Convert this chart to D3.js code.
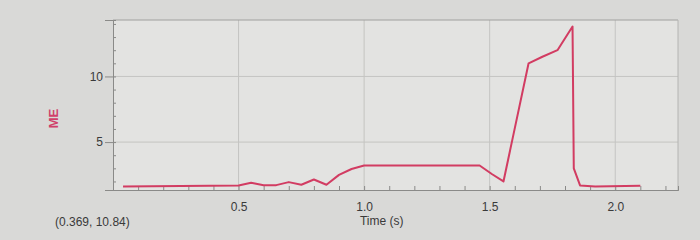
<!DOCTYPE html>
<html>
<head>
<meta charset="utf-8">
<script src="https://cdn.jsdelivr.net/npm/d3@7"></script>
<style>
  body { margin: 0; background: #d9d9d7; }
  svg { display: block; font-family: "Liberation Sans", Arial, sans-serif; }
  .tick text { fill: #3a3a3a; font-size: 12px; }
</style>
</head>
<body>
<div id="chart"></div>
<script>
// time (s) and ME values
var times = [0.04, 0.5, 0.55, 0.6, 0.65, 0.7, 0.75, 0.8, 0.85, 0.9, 0.95, 1.0, 1.46, 1.51, 1.555, 1.655, 1.71, 1.77, 1.83, 1.835, 1.86, 1.92, 2.1];
var meValues = [1.62, 1.7, 1.9, 1.72, 1.72, 1.95, 1.75, 2.15, 1.75, 2.5, 2.95, 3.22, 3.22, 2.55, 2.0, 11.0, 11.5, 12.0, 13.8, 3.0, 1.7, 1.62, 1.68];
var xMajor = [0.5, 1.0, 1.5, 2.0];
var yMajor = [5, 10];
var readout = '(0.369, 10.84)';

var width = 700, height = 240;
var svg = d3.select('#chart').append('svg').attr('width', width).attr('height', height);

var plotL = 113, plotR = 678, plotT = 20, plotB = 190;
var x = d3.scaleLinear().domain([0, 2.25]).range([plotL, plotR]);
var y = d3.scaleLinear().domain([1.35, 14.3]).range([plotB, plotT]);

// plot background
svg.append('rect').attr('x', plotL).attr('y', plotT).attr('width', plotR - plotL).attr('height', plotB - plotT)
    .attr('fill', '#e3e3e1');

// grid
svg.append('g').selectAll('line').data(xMajor).enter().append('line')
    .attr('x1', d => x(d)).attr('x2', d => x(d)).attr('y1', plotT).attr('y2', plotB)
    .attr('stroke', '#c4c4c2').attr('stroke-width', 1);
svg.append('g').selectAll('line').data(yMajor).enter().append('line')
    .attr('x1', plotL).attr('x2', plotR).attr('y1', d => y(d)).attr('y2', d => y(d))
    .attr('stroke', '#c4c4c2').attr('stroke-width', 1);

// frame top / right
svg.append('line').attr('x1', plotL).attr('x2', plotR).attr('y1', plotT).attr('y2', plotT).attr('stroke', '#a0a09e');
svg.append('line').attr('x1', plotR).attr('x2', plotR).attr('y1', plotT).attr('y2', plotB).attr('stroke', '#b4b4b2');

// x axis: minor ticks every 0.1 inside, labels at majors
var xMinor = d3.range(1, 23).map(i => i / 10);
svg.append('g').attr('transform', `translate(0,${plotB})`)
    .call(d3.axisTop(x).tickValues(xMinor).tickSize(4).tickFormat(''));
svg.append('g').attr('transform', `translate(0,${plotB})`)
    .call(d3.axisBottom(x).tickValues(xMajor).tickSize(0).tickPadding(12).tickFormat(d3.format('.1f')));

// y axis
var yMinor = d3.range(2, 15);
svg.append('g').attr('transform', `translate(${plotL},0)`)
    .call(d3.axisRight(y).tickValues(yMinor).tickSize(3).tickFormat(''));
svg.append('g').attr('transform', `translate(${plotL},0)`)
    .call(d3.axisLeft(y).tickValues(yMajor).tickSize(8).tickPadding(2).tickFormat(d3.format('d')));

svg.selectAll('.domain').attr('stroke', '#8a8a88');
svg.selectAll('.tick line').attr('stroke', '#8a8a88');

// data line
var line = d3.line().x((d, i) => x(times[i])).y(d => y(d));
svg.append('path').datum(meValues).attr('d', line)
    .attr('fill', 'none').attr('stroke', '#d23c62').attr('stroke-width', 2).attr('stroke-linejoin', 'round');

// labels
svg.append('text').attr('x', x(1.07)).attr('y', 225).attr('text-anchor', 'middle')
    .attr('font-size', 12).attr('fill', '#3a3a3a').text('Time (s)');
svg.append('text').attr('transform', `translate(58,${y(6.8)})rotate(-90)`).attr('text-anchor', 'middle')
    .attr('font-size', 13).attr('font-weight', 'bold').attr('fill', '#d0406a').text('ME');
svg.append('text').attr('x', 55).attr('y', 226).attr('font-size', 12).attr('fill', '#3a3a3a').text(readout);
</script>
</body>
</html>
